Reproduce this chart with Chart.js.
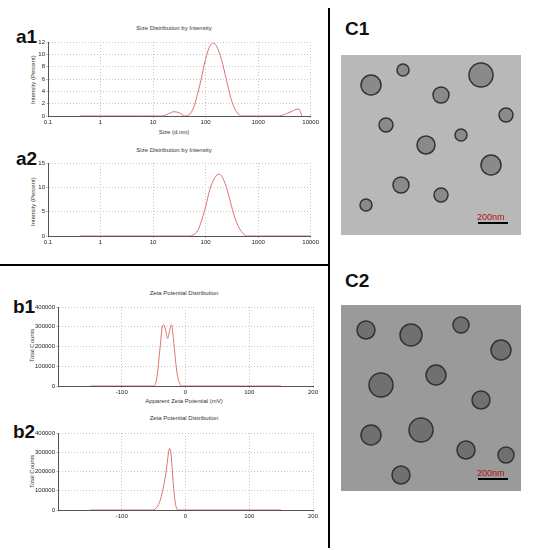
<!DOCTYPE html>
<html>
<head>
<meta charset="utf-8">
<script src="https://cdn.jsdelivr.net/npm/chart.js@4"></script>
<style>
  body { margin: 0; background: #fff; width: 533px; height: 550px; position: relative; overflow: hidden; font-family: Arial, "Liberation Sans", sans-serif; }
  .abs { position: absolute; }
  .tag { position: absolute; font-weight: bold; font-size: 19px; color: #111; }
  .ttl { position: absolute; font-size: 6px; color: #333; width: 320px; text-align: center; }
  .ylab { position: absolute; font-size: 6px; color: #333; transform: rotate(-90deg); transform-origin: left top; white-space: nowrap; }
</style>
</head>
<body>
<div class="abs" style="left:328px;top:8px;width:2px;height:540px;background:#000"></div>
<div class="abs" style="left:0;top:264px;width:329px;height:2px;background:#000"></div>

<div class="tag" style="left:16px;top:26px">a1</div>
<div class="tag" style="left:16px;top:148px">a2</div>
<div class="tag" style="left:13px;top:296px">b1</div>
<div class="tag" style="left:13px;top:421px">b2</div>
<div class="tag" style="left:345px;top:18px">C1</div>
<div class="tag" style="left:345px;top:270px">C2</div>

<div class="ttl" style="left:14px;top:25px">Size Distribution by Intensity</div>
<div class="ttl" style="left:14px;top:147px">Size Distribution by Intensity</div>
<div class="ttl" style="left:24px;top:290px">Zeta Potential Distribution</div>
<div class="ttl" style="left:24px;top:415px">Zeta Potential Distribution</div>
<div class="ttl" style="left:14px;top:129px">Size (d.nm)</div>
<div class="ttl" style="left:24px;top:398px">Apparent Zeta Potential (mV)</div>
<div class="ylab" style="left:30px;top:104px">Intensity (Percent)</div>
<div class="ylab" style="left:30px;top:226px">Intensity (Percent)</div>
<div class="ylab" style="left:29px;top:362px">Total Counts</div>
<div class="ylab" style="left:29px;top:488px">Total Counts</div>

<canvas id="a1" class="abs"></canvas>
<canvas id="a2" class="abs"></canvas>
<canvas id="b1" class="abs"></canvas>
<canvas id="b2" class="abs"></canvas>
<canvas id="c1" class="abs" width="180" height="180" style="left:341px;top:55px"></canvas>
<canvas id="c2" class="abs" width="180" height="186" style="left:341px;top:305px"></canvas>

<script>
// size distribution (d.nm vs %)
const a1Size = [0.4, 1, 5, 15, 20, 25, 32, 40, 50, 60, 70, 80, 100, 120, 140, 160, 200, 250, 300, 350, 420, 500, 1000, 2500, 3500, 4500, 5500, 6000, 6800];
const a1Int  = [0, 0, 0, 0, 0.4, 0.7, 0.5, 0, 0.3, 1.5, 3.5, 5.5, 9.2, 11.3, 11.8, 11.4, 9.2, 5.8, 3, 1.4, 0.3, 0, 0, 0, 0.4, 0.8, 1.1, 1.1, 0];
const a2Size = [0.4, 1, 10, 50, 60, 70, 80, 100, 120, 150, 180, 200, 250, 300, 350, 420, 500, 600, 1000, 10000];
const a2Int  = [0, 0, 0, 0, 0.3, 1, 2.5, 6, 9.5, 12, 12.7, 12.4, 10, 6.8, 4.2, 2, 0.7, 0, 0, 0];
// zeta potential (mV vs counts)
const b1Mv  = [-150, -60, -50, -45, -40, -36, -34, -31, -28, -25, -22, -19, -16, -13, -10, -6, 0, 150];
const b1Cnt = [0, 0, 0, 40000, 190000, 305000, 310000, 280000, 240000, 280000, 310000, 240000, 140000, 60000, 20000, 0, 0, 0];
const b2Mv  = [-150, -55, -48, -42, -38, -34, -30, -27, -25, -23, -21, -19, -17, -15, -12, -8, 150];
const b2Cnt = [0, 0, 5000, 30000, 70000, 130000, 210000, 290000, 320000, 300000, 220000, 130000, 60000, 20000, 0, 0, 0];

const sizeTicks = [0.1, 1, 10, 100, 1000, 10000];
const zetaTicks = [-100, 0, 100, 200];

const lineColor = "#e07070";
const gridColor = "#c8c8c8";
Chart.defaults.font.family = "Arial, 'Liberation Sans', sans-serif";
Chart.defaults.font.size = 6;
Chart.defaults.color = "#222";

function pts(xs, ys) { return xs.map((x, i) => ({ x: x, y: ys[i] })); }

function makeChart(id, top, plotLeft, plotH, xs, ys, xScale, yMax, yStep) {
  const cv = document.getElementById(id);
  const xAxisH = 12;
  cv.width = 320;
  cv.height = plotH + 5 + xAxisH;
  cv.style.left = "0px";
  cv.style.top = (top - 5) + "px";
  new Chart(cv, {
    type: "line",
    data: { datasets: [{ data: pts(xs, ys), borderColor: lineColor, borderWidth: 1, pointRadius: 0, tension: 0.4, cubicInterpolationMode: "monotone" }] },
    options: {
      responsive: false, animation: false,
      layout: { padding: { top: 5, right: 7, left: 0, bottom: 0 } },
      plugins: { legend: { display: false }, tooltip: { enabled: false } },
      scales: {
        x: Object.assign({
          grid: { color: gridColor, tickLength: 2 },
          border: { color: "#555", dash: [1, 2] },
          afterFit: (s) => { s.height = xAxisH; }
        }, xScale),
        y: {
          min: 0, max: yMax,
          ticks: { stepSize: yStep, padding: 1, callback: (v) => String(v) },
          grid: { color: gridColor, tickLength: 2 },
          border: { color: "#555", dash: [1, 2] },
          afterFit: (s) => { s.width = plotLeft; }
        }
      }
    }
  });
}

const logX = {
  type: "logarithmic", min: 0.1, max: 10000,
  afterBuildTicks: (s) => { s.ticks = sizeTicks.map(v => ({ value: v })); },
  ticks: { maxRotation: 0, padding: 1, callback: (v) => String(v) }
};
const linX = {
  type: "linear", min: -200, max: 200,
  afterBuildTicks: (s) => { s.ticks = [-200].concat(zetaTicks).map(v => ({ value: v })); },
  ticks: { maxRotation: 0, padding: 1, callback: (v) => v === -200 ? "" : String(v) }
};

makeChart("a1", 42, 48, 74, a1Size, a1Int, logX, 12, 2);
makeChart("a2", 163, 48, 73, a2Size, a2Int, logX, 15, 5);
makeChart("b1", 307, 58, 79, b1Mv, b1Cnt, linX, 400000, 100000);
makeChart("b2", 433, 58, 77, b2Mv, b2Cnt, linX, 400000, 100000);

// TEM micrographs: plain gray placeholders with particle outlines and scale bar
const c1Particles = [[30, 30, 10], [62, 15, 6], [100, 40, 8], [140, 20, 12], [45, 70, 7], [85, 90, 9], [120, 80, 6], [150, 110, 10], [60, 130, 8], [100, 140, 7], [25, 150, 6], [165, 60, 7]];
const c2Particles = [[25, 25, 9], [70, 30, 11], [120, 20, 8], [160, 45, 10], [40, 80, 12], [95, 70, 10], [140, 95, 9], [30, 130, 10], [80, 125, 12], [125, 145, 9], [165, 150, 8], [60, 170, 9]];

function drawTem(id, bg, parts, fill) {
  const cv = document.getElementById(id);
  const ctx = cv.getContext("2d");
  ctx.fillStyle = bg;
  ctx.fillRect(0, 0, cv.width, cv.height);
  parts.forEach(p => {
    ctx.beginPath();
    ctx.arc(p[0], p[1], p[2], 0, Math.PI * 2);
    ctx.fillStyle = fill;
    ctx.fill();
    ctx.strokeStyle = "#333";
    ctx.lineWidth = 1.5;
    ctx.stroke();
  });
  ctx.fillStyle = "#000";
  ctx.fillRect(cv.width - 43, cv.height - 13, 30, 2);
  ctx.fillStyle = "#b01010";
  ctx.font = "9px Arial";
  ctx.fillText("200nm", cv.width - 44, cv.height - 15);
}
drawTem("c1", "#b8b8b8", c1Particles, "#8a8a8a");
drawTem("c2", "#9a9a9a", c2Particles, "#707070");
</script>
</body>
</html>
